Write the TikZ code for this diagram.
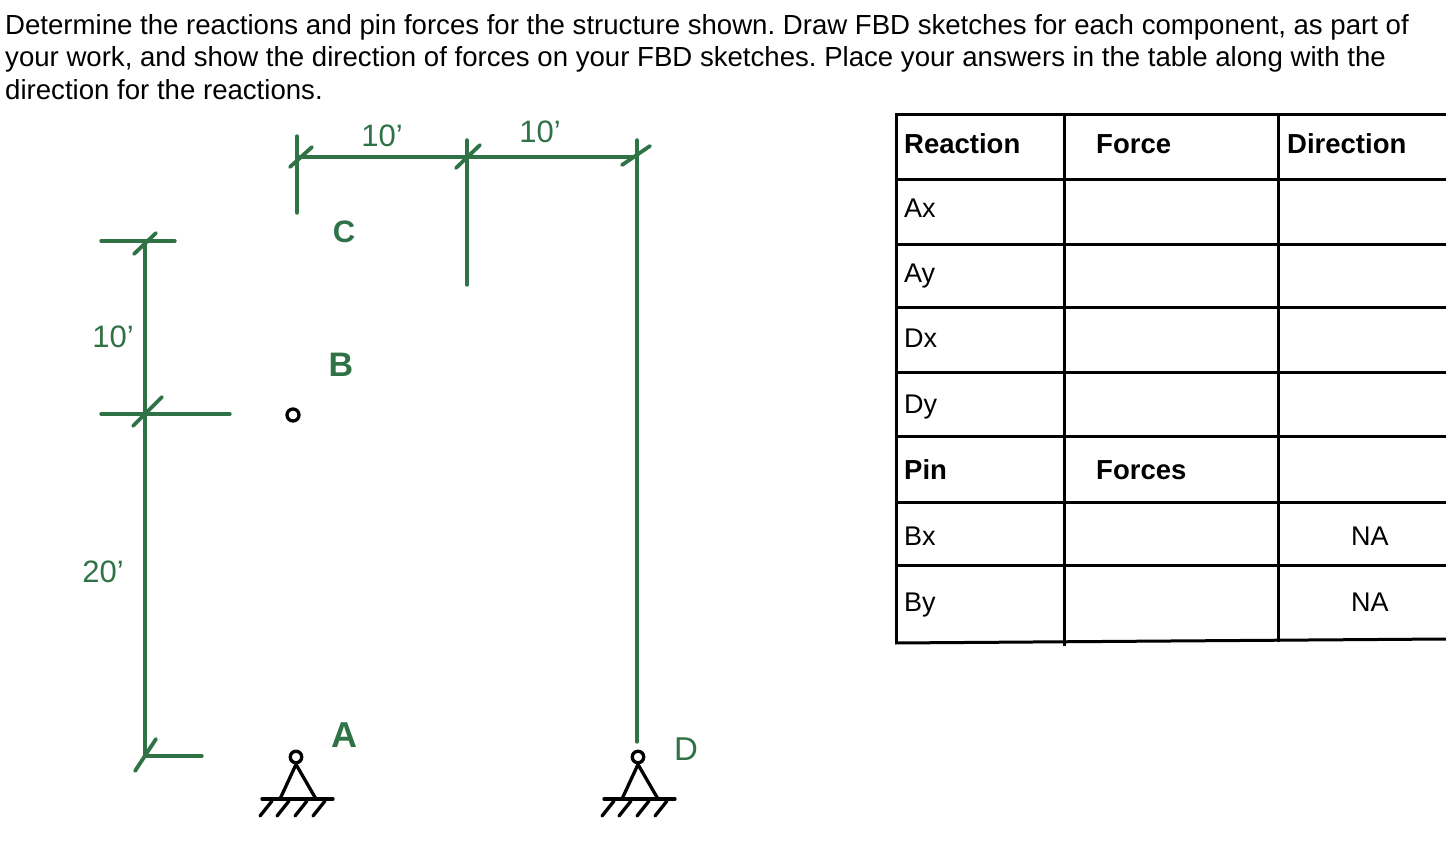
\documentclass[tikz,border=0pt]{standalone}
\usepackage{fontspec}
\setmainfont{Liberation Sans}
\usepackage{xcolor}
\definecolor{pen}{HTML}{2F7245}
\frenchspacing
\begin{document}
\begin{tikzpicture}[x=1pt, y=-1pt]
      \tikzstyle{member}=[draw=pen, line width=3.4pt, line cap=round]
      \tikzstyle{tick}=[member, line width=3.8pt]
      \tikzstyle{pinline}=[draw=black, line width=3.3pt, line cap=round]
      \tikzstyle{rule}=[draw=black, line width=3pt]
      \tikzstyle{cell}=[anchor=base west, inner sep=0, font=\fontsize{27}{30}\selectfont]
      \tikzstyle{head}=[cell, font=\fontsize{27.5}{30}\selectfont\bfseries]
      \tikzstyle{hand}=[text=pen, inner sep=0, font=\fontsize{31}{34}\selectfont]
      \useasboundingbox (0,0) rectangle (1446,842);

      \node[anchor=north west, inner sep=0, align=left, font=\fontsize{27.6}{32.7}\selectfont] (task) at (5,14)
        {Determine the reactions and pin forces for the structure shown. Draw FBD sketches for each component, as part of\\
         your work, and show the direction of forces on your FBD sketches. Place your answers in the table along with the\\
         direction for the reactions.};

      % top dimension and members
      \coordinate (ctop) at (297,136);
      \coordinate (cend) at (297,213);
      \coordinate (mtop) at (467,140);
      \coordinate (mend) at (467,285);
      \coordinate (rtop) at (637,140);
      \coordinate (rend) at (637,742);
      \coordinate (cdim) at (297,157);
      \coordinate (rdim) at (637,157);
      \draw[member] (cdim) -- (rdim);
      \draw[member] (ctop) -- (cend);
      \draw[member] (mtop) -- (mend);
      \draw[member] (rtop) -- (rend);
      \draw[tick] (290,167) -- (312,147);
      \draw[tick] (456,168) -- (480,145);
      \draw[tick] (622,165) -- (650,146);

      % left dimension
      \coordinate (dimtop) at (145,241);
      \coordinate (dimend) at (145,756);
      \draw[member] (dimtop) -- (dimend);
      \draw[member] (101,241) -- (175,241);
      \draw[member] (101,414) -- (230,414);
      \draw[member] (dimend) -- (202,756);
      \draw[tick] (134,254) -- (156,233);
      \draw[tick] (133,426) -- (162,397);
      \draw[tick] (135,771) -- (156,739);

      % pins and supports
      \node[draw, pinline, circle, inner sep=0, minimum size=12pt] (pinb) at (293,415) {};
      \foreach \name/\px in {a/296, d/638} {
        \node[draw, pinline, circle, inner sep=0, minimum size=11.5pt] (pin\name) at (\px,757) {};
        \draw[pinline] (pin\name.south) -- (\px-16,799) (pin\name.south) -- (\px+20,799);
        \draw[pinline] (\px-34,799) -- (\px+37,799);
        \foreach \dx in {-36,-19,-1,17}
          \draw[pinline] (\px+\dx,816) -- (\px+\dx+12,801);
      }

      \node[hand] (lenone) at (382,136) {10'};
      \node[hand] (lentwo) at (540,132) {10'};
      \node[hand] (lenthree) at (113,337) {10'};
      \node[hand] (lenfour) at (103,572) {20'};
      \node[hand, font=\fontsize{31}{34}\selectfont\bfseries] (labc) at (344,232) {C};
      \node[hand, font=\fontsize{34}{34}\selectfont\bfseries] (labb) at (341,365) {B};
      \node[hand, font=\fontsize{36}{36}\selectfont\bfseries] (laba) at (344,735) {A};
      \node[hand, font=\fontsize{33}{34}\selectfont] (labd) at (686,749) {D};

      % table
      \foreach \ry in {115,180,245,308,372,436,502,565}
        \draw[rule] (895,\ry) -- (1446,\ry);
      \draw[rule] (895,643) -- (1446,639);
      \draw[rule] (896,114) -- (896,644);
      \draw[rule] (1064,114) -- (1064,646);
      \draw[rule] (1278,114) -- (1278,642);

      \node[head] (reaction) at (904,154) {Reaction};
      \node[head] (force) at (1096,154) {Force};
      \node[head] (direction) at (1287,154) {Direction};
      \node[cell] (ax) at (904,218) {Ax};
      \node[cell] (ay) at (904,283) {Ay};
      \node[cell] (dx) at (904,348) {Dx};
      \node[cell] (dy) at (904,413) {Dy};
      \node[head] (pin) at (904,479) {Pin};
      \node[head] (forces) at (1096,479) {Forces};
      \node[cell] (bx) at (904,545) {Bx};
      \node[cell] (by) at (904,611) {By};
      \node[cell] (nabx) at (1351,545) {NA};
      \node[cell] (naby) at (1351,611) {NA};
\end{tikzpicture}
\end{document}
